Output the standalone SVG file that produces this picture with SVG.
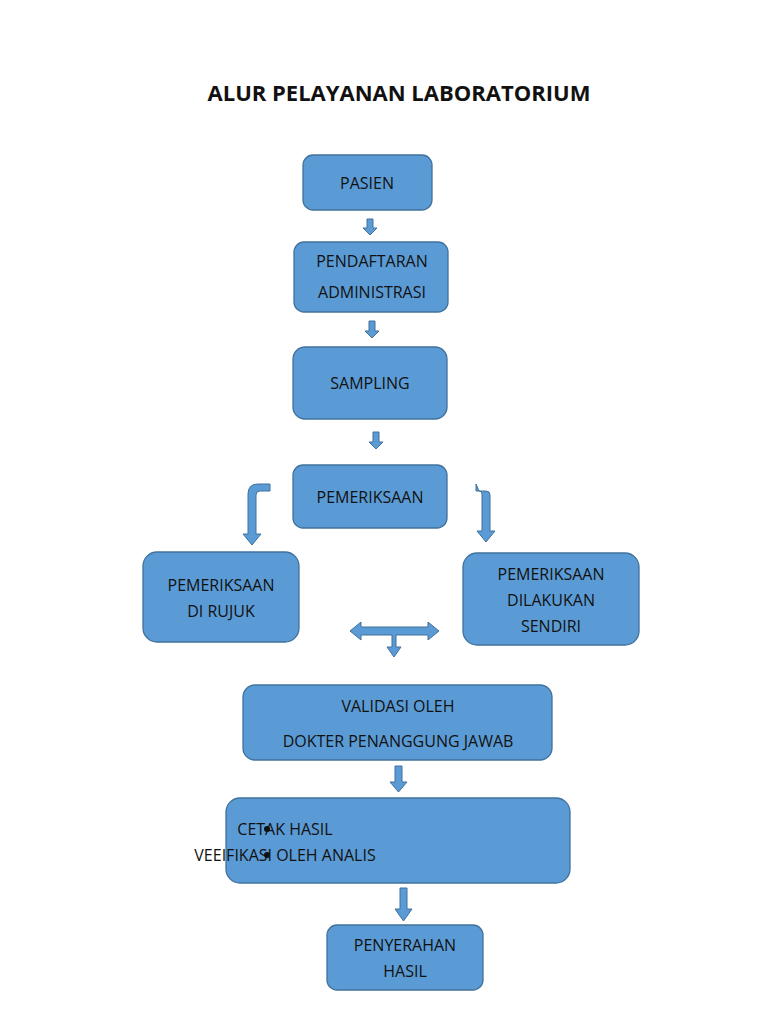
<svg xmlns="http://www.w3.org/2000/svg" width="768" height="1024" viewBox="0 0 768 1024">
<style>
.n{fill:#5b9bd5;stroke:#41719c;stroke-width:1.3}
.a{fill:#5b9bd5;stroke:#41719c;stroke-width:1}
text{font-family:"Open Sans","Liberation Sans",sans-serif;font-size:16px;fill:#111;text-anchor:middle}
.t{font-weight:bold;font-size:22px}
</style>
<rect width="768" height="1024" fill="#fff"/>
<text class="t" x="399" y="101">ALUR PELAYANAN LABORATORIUM</text>
<g id="pasien"><rect class="n" x="303" y="155" width="129" height="55" rx="10"/><text x="367" y="189">PASIEN</text></g>
<g id="pendaftaran"><rect class="n" x="294" y="242" width="154" height="70" rx="10"/><text x="372" y="267" font-size="14">PENDAFTARAN</text><text x="372" y="298" font-size="14">ADMINISTRASI</text></g>
<g id="sampling"><rect class="n" x="293" y="347" width="154" height="72" rx="12"/><text x="370" y="389">SAMPLING</text></g>
<g id="pemeriksaan"><rect class="n" x="293" y="465" width="154" height="63" rx="10"/><text x="370" y="503">PEMERIKSAAN</text></g>
<g id="rujuk"><rect class="n" x="143" y="552" width="156" height="90" rx="14"/><text x="221" y="591">PEMERIKSAAN</text><text x="221" y="617">DI RUJUK</text></g>
<g id="sendiri"><rect class="n" x="463" y="553" width="176" height="92" rx="14"/><text x="551" y="580">PEMERIKSAAN</text><text x="551" y="606">DILAKUKAN</text><text x="551" y="632">SENDIRI</text></g>
<g id="validasi"><rect class="n" x="243" y="685" width="309" height="75" rx="12"/><text x="398" y="712">VALIDASI OLEH</text><text x="398" y="747">DOKTER PENANGGUNG JAWAB</text></g>
<g id="cetak"><rect class="n" x="226" y="798" width="344" height="85" rx="14"/><circle cx="267" cy="829" r="3" fill="#111"/><circle cx="267" cy="855" r="3" fill="#111"/><text x="285" y="835" text-anchor="start">CETAK HASIL</text><text x="285" y="861" text-anchor="start">VEEIFIKASI OLEH ANALIS</text></g>
<g id="penyerahan"><rect class="n" x="327" y="925" width="156" height="65" rx="10"/><text x="405" y="951">PENYERAHAN</text><text x="405" y="977">HASIL</text></g>
<g id="connectors">
<path class="a" d="M367,219h6v9h4l-7,7l-7,-7h4z"/>
<path class="a" d="M369,321h6v10h4l-7,7l-7,-7h4z"/>
<path class="a" d="M373,432h6v10h4l-7,7l-7,-7h4z"/>
<path class="a" d="M395,766h7v16h5l-8.5,10l-8.5,-10h5z"/>
<path class="a" d="M400,888h7v21h5l-8.5,12l-8.5,-12h5z"/>
<path class="a" d="M270,484v7h-10q-4,0 -4,4v39h5l-9,11l-9,-11h5v-40q0,-10 10,-10z"/>
<path class="a" d="M476,484v7h10q4,0 4,4v36h5l-9,11l-9,-11h5v-37q0,-3 -3,-3z"/>
<path class="a" d="M350,631l11,-9v5h67v-5l11,9l-11,9v-5h-32v12h5l-7,10l-7,-10h5v-12h-31v5z"/>
</g>
</svg>
